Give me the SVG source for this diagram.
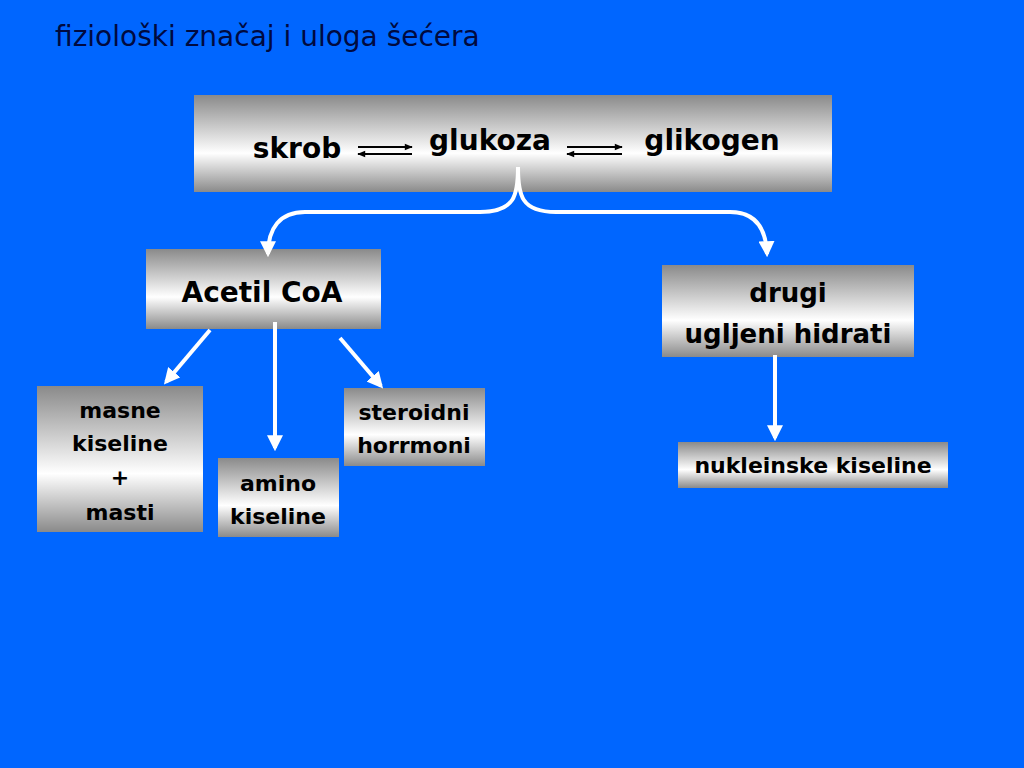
<svg xmlns="http://www.w3.org/2000/svg" width="1024" height="768" viewBox="0 0 1024 768">
<defs>
<linearGradient id="g" x1="0" y1="0" x2="0" y2="1">
<stop offset="0" stop-color="#8a8a8a"/><stop offset="0.6" stop-color="#ffffff"/><stop offset="1" stop-color="#8a8a8a"/>
</linearGradient>
<marker id="ah" viewBox="0 0 10 10" refX="8" refY="5" markerWidth="4" markerHeight="4" orient="auto"><path d="M0,0 L10,5 L0,10 Z" fill="#fff"/></marker>
<marker id="bh" viewBox="0 0 10 10" refX="9" refY="5" markerWidth="6" markerHeight="4" orient="auto"><path d="M0,1 L10,5 L0,9 Z" fill="#000"/></marker>
</defs>
<style>
.b{fill:url(#g)}
.t{font-family:"DejaVu Sans",sans-serif;font-weight:bold;fill:#000;text-anchor:middle;paint-order:stroke;stroke:#fff;stroke-width:0}
.s{font-family:"DejaVu Sans",sans-serif;font-weight:bold;fill:#fff;text-anchor:middle;opacity:0.8}
.c{stroke:#fff;stroke-width:4;fill:none;marker-end:url(#ah)}
.e{stroke:#000;stroke-width:2;fill:none;marker-end:url(#bh)}
</style>
<rect width="1024" height="768" fill="#0066ff"/>
<text x="55" y="46" font-family="DejaVu Sans, sans-serif" font-size="28" fill="#000a40">fiziološki značaj i uloga šećera</text>
<g id="top">
<rect class="b" x="194" y="95" width="638" height="97"/>
<text class="t" x="297" y="158" font-size="28">skrob</text>
<text class="t" x="490" y="150" font-size="28">glukoza</text>
<text class="t" x="712" y="150" font-size="28">glikogen</text>
<path class="e" d="M358,147 H412"/><path class="e" d="M412,154 H358"/>
<path class="e" d="M567,147 H622"/><path class="e" d="M622,154 H567"/>
</g>
<g id="acetil"><rect class="b" x="146" y="249" width="235" height="80"/><text class="t" x="262" y="302" font-size="28">Acetil CoA</text></g>
<g id="drugi"><rect class="b" x="662" y="265" width="252" height="92"/><text class="t" x="788" y="302" font-size="26">drugi</text><text class="t" x="788" y="343" font-size="26">ugljeni hidrati</text></g>
<g id="masne"><rect class="b" x="37" y="386" width="166" height="146"/>
<text class="t" x="120" y="418" font-size="22">masne</text><text class="t" x="120" y="451" font-size="22">kiseline</text><text class="t" x="120" y="485" font-size="22">+</text><text class="t" x="120" y="520" font-size="22">masti</text></g>
<g id="amino"><rect class="b" x="218" y="458" width="121" height="79"/><text class="t" x="278" y="491" font-size="22">amino</text><text class="t" x="278" y="524" font-size="22">kiseline</text></g>
<g id="steroidni"><rect class="b" x="344" y="388" width="141" height="78"/><text class="t" x="414" y="420" font-size="22">steroidni</text><text class="t" x="414" y="453" font-size="22">horrmoni</text></g>
<g id="nukleinske"><rect class="b" x="678" y="442" width="270" height="46"/><text class="t" x="813" y="473" font-size="22">nukleinske kiseline</text></g>
<g id="connectors">
<path class="c" d="M518,167 C518,195 515,212 480,212 H305 C280,212 268,228 268,254"/>
<path class="c" d="M518,167 C518,195 521,212 556,212 H730 C755,212 766,228 767,254"/>
<path class="c" d="M210,330 L166,382"/>
<path class="c" d="M275,322 V448"/>
<path class="c" d="M340,338 L381,386"/>
<path class="c" d="M775,355 V438"/>
</g>
</svg>
